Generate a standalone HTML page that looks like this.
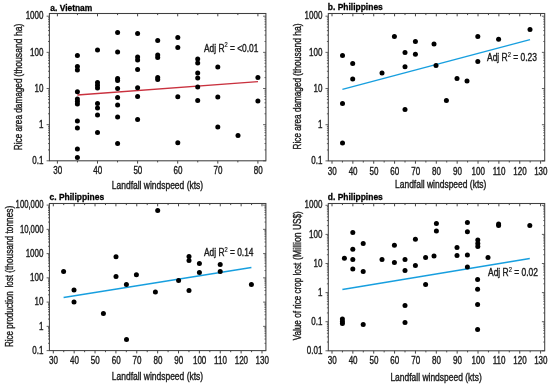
<!DOCTYPE html>
<html><head><meta charset="utf-8"><title>Landfall windspeed vs rice damage</title>
<style>
html,body{margin:0;padding:0;background:#fff}
svg{display:block;font-family:"Liberation Sans",sans-serif}
</style></head><body>
<svg width="550" height="388" viewBox="0 0 550 388">
<defs><filter id="soft" x="-2%" y="-2%" width="104%" height="104%"><feGaussianBlur stdDeviation="0.38"/></filter></defs>
<rect width="550" height="388" fill="#fff"/>
<g filter="url(#soft)">
<rect x="49.4" y="13.5" width="216.49999999999997" height="147.3" fill="none" stroke="#404040" stroke-width="1.05"/>
<path d="M57.40 160.8 v2.8 M57.40 13.5 v2.8" stroke="#444" stroke-width="1" fill="none"/>
<text transform="translate(57.65,174.00) scale(0.78,1)" text-anchor="middle" font-size="10.3" font-weight="normal" fill="#1c1c1c" stroke="#1c1c1c" stroke-width="0.38">30</text>
<path d="M77.45 160.8 v1.6 M77.45 13.5 v1.6" stroke="#444" stroke-width="1" fill="none"/>
<path d="M97.50 160.8 v2.8 M97.50 13.5 v2.8" stroke="#444" stroke-width="1" fill="none"/>
<text transform="translate(97.75,174.00) scale(0.78,1)" text-anchor="middle" font-size="10.3" font-weight="normal" fill="#1c1c1c" stroke="#1c1c1c" stroke-width="0.38">40</text>
<path d="M117.55 160.8 v1.6 M117.55 13.5 v1.6" stroke="#444" stroke-width="1" fill="none"/>
<path d="M137.60 160.8 v2.8 M137.60 13.5 v2.8" stroke="#444" stroke-width="1" fill="none"/>
<text transform="translate(137.85,174.00) scale(0.78,1)" text-anchor="middle" font-size="10.3" font-weight="normal" fill="#1c1c1c" stroke="#1c1c1c" stroke-width="0.38">50</text>
<path d="M157.65 160.8 v1.6 M157.65 13.5 v1.6" stroke="#444" stroke-width="1" fill="none"/>
<path d="M177.70 160.8 v2.8 M177.70 13.5 v2.8" stroke="#444" stroke-width="1" fill="none"/>
<text transform="translate(177.95,174.00) scale(0.78,1)" text-anchor="middle" font-size="10.3" font-weight="normal" fill="#1c1c1c" stroke="#1c1c1c" stroke-width="0.38">60</text>
<path d="M197.75 160.8 v1.6 M197.75 13.5 v1.6" stroke="#444" stroke-width="1" fill="none"/>
<path d="M217.80 160.8 v2.8 M217.80 13.5 v2.8" stroke="#444" stroke-width="1" fill="none"/>
<text transform="translate(218.05,174.00) scale(0.78,1)" text-anchor="middle" font-size="10.3" font-weight="normal" fill="#1c1c1c" stroke="#1c1c1c" stroke-width="0.38">70</text>
<path d="M237.85 160.8 v1.6 M237.85 13.5 v1.6" stroke="#444" stroke-width="1" fill="none"/>
<path d="M257.90 160.8 v2.8 M257.90 13.5 v2.8" stroke="#444" stroke-width="1" fill="none"/>
<text transform="translate(258.15,174.00) scale(0.78,1)" text-anchor="middle" font-size="10.3" font-weight="normal" fill="#1c1c1c" stroke="#1c1c1c" stroke-width="0.38">80</text>
<text transform="translate(43.50,163.95) scale(0.78,1)" text-anchor="end" font-size="10.3" font-weight="normal" fill="#1c1c1c" stroke="#1c1c1c" stroke-width="0.38">0.1</text>
<text transform="translate(43.50,127.80) scale(0.78,1)" text-anchor="end" font-size="10.3" font-weight="normal" fill="#1c1c1c" stroke="#1c1c1c" stroke-width="0.38">1</text>
<text transform="translate(43.50,91.65) scale(0.78,1)" text-anchor="end" font-size="10.3" font-weight="normal" fill="#1c1c1c" stroke="#1c1c1c" stroke-width="0.38">10</text>
<text transform="translate(43.50,55.50) scale(0.78,1)" text-anchor="end" font-size="10.3" font-weight="normal" fill="#1c1c1c" stroke="#1c1c1c" stroke-width="0.38">100</text>
<text transform="translate(43.50,19.35) scale(0.78,1)" text-anchor="end" font-size="10.3" font-weight="normal" fill="#1c1c1c" stroke="#1c1c1c" stroke-width="0.38">1000</text>
<path d="M49.4 160.80 h-2.8 M265.9 160.80 h-2.8 M49.4 149.92 h-1.4 M265.9 149.92 h-1.4 M49.4 143.55 h-1.4 M265.9 143.55 h-1.4 M49.4 139.04 h-1.4 M265.9 139.04 h-1.4 M49.4 135.53 h-1.4 M265.9 135.53 h-1.4 M49.4 132.67 h-1.4 M265.9 132.67 h-1.4 M49.4 130.25 h-1.4 M265.9 130.25 h-1.4 M49.4 128.15 h-1.4 M265.9 128.15 h-1.4 M49.4 126.30 h-1.4 M265.9 126.30 h-1.4 M49.4 124.65 h-2.8 M265.9 124.65 h-2.8 M49.4 113.77 h-1.4 M265.9 113.77 h-1.4 M49.4 107.40 h-1.4 M265.9 107.40 h-1.4 M49.4 102.89 h-1.4 M265.9 102.89 h-1.4 M49.4 99.38 h-1.4 M265.9 99.38 h-1.4 M49.4 96.52 h-1.4 M265.9 96.52 h-1.4 M49.4 94.10 h-1.4 M265.9 94.10 h-1.4 M49.4 92.00 h-1.4 M265.9 92.00 h-1.4 M49.4 90.15 h-1.4 M265.9 90.15 h-1.4 M49.4 88.50 h-2.8 M265.9 88.50 h-2.8 M49.4 77.62 h-1.4 M265.9 77.62 h-1.4 M49.4 71.25 h-1.4 M265.9 71.25 h-1.4 M49.4 66.74 h-1.4 M265.9 66.74 h-1.4 M49.4 63.23 h-1.4 M265.9 63.23 h-1.4 M49.4 60.37 h-1.4 M265.9 60.37 h-1.4 M49.4 57.95 h-1.4 M265.9 57.95 h-1.4 M49.4 55.85 h-1.4 M265.9 55.85 h-1.4 M49.4 54.00 h-1.4 M265.9 54.00 h-1.4 M49.4 52.35 h-2.8 M265.9 52.35 h-2.8 M49.4 41.47 h-1.4 M265.9 41.47 h-1.4 M49.4 35.10 h-1.4 M265.9 35.10 h-1.4 M49.4 30.59 h-1.4 M265.9 30.59 h-1.4 M49.4 27.08 h-1.4 M265.9 27.08 h-1.4 M49.4 24.22 h-1.4 M265.9 24.22 h-1.4 M49.4 21.80 h-1.4 M265.9 21.80 h-1.4 M49.4 19.70 h-1.4 M265.9 19.70 h-1.4 M49.4 17.85 h-1.4 M265.9 17.85 h-1.4 M49.4 16.20 h-2.8 M265.9 16.20 h-2.8" stroke="#444" stroke-width="0.85" fill="none"/>
<text transform="translate(50.30,10.60) scale(1,1)" text-anchor="start" font-size="9.1" font-weight="bold" fill="#000" stroke="#000" stroke-width="0.3" textLength="42.00" lengthAdjust="spacingAndGlyphs">a. Vietnam</text>
<text transform="translate(22.00,150.20) rotate(-90) scale(0.82,1)" text-anchor="start" font-size="10.3" font-weight="normal" fill="#1c1c1c" stroke="#1c1c1c" stroke-width="0.38" textLength="87.44" lengthAdjust="spacingAndGlyphs">Rice area damaged</text>
<text transform="translate(22.00,76.70) rotate(-90) scale(0.82,1)" text-anchor="start" font-size="10.3" font-weight="normal" fill="#1c1c1c" stroke="#1c1c1c" stroke-width="0.38" textLength="64.63" lengthAdjust="spacingAndGlyphs">(thousand ha)</text>
<text transform="translate(111.80,189.20) scale(0.82,1)" text-anchor="start" font-size="10.3" font-weight="normal" fill="#1c1c1c" stroke="#1c1c1c" stroke-width="0.38" textLength="111.34" lengthAdjust="spacingAndGlyphs">Landfall windspeed (kts)</text>
<line x1="77.4" y1="95.0" x2="258" y2="81.6" stroke="#c9303e" stroke-width="1.3" stroke-linecap="butt"/>
<circle cx="77.4" cy="55.6" r="2.5"/>
<circle cx="77.4" cy="66.6" r="2.5"/>
<circle cx="77.4" cy="70.0" r="2.5"/>
<circle cx="77.4" cy="91.8" r="2.5"/>
<circle cx="77.4" cy="99.0" r="2.5"/>
<circle cx="77.4" cy="101.4" r="2.5"/>
<circle cx="77.4" cy="104.0" r="2.5"/>
<circle cx="77.4" cy="121.0" r="2.5"/>
<circle cx="77.4" cy="128.0" r="2.5"/>
<circle cx="77.4" cy="149.0" r="2.5"/>
<circle cx="77.4" cy="157.4" r="2.5"/>
<circle cx="97.5" cy="50.0" r="2.5"/>
<circle cx="97.5" cy="82.4" r="2.5"/>
<circle cx="97.5" cy="85.2" r="2.5"/>
<circle cx="97.5" cy="88.0" r="2.5"/>
<circle cx="97.5" cy="103.6" r="2.5"/>
<circle cx="97.5" cy="108.0" r="2.5"/>
<circle cx="97.5" cy="115.0" r="2.5"/>
<circle cx="97.5" cy="132.4" r="2.5"/>
<circle cx="117.6" cy="32.4" r="2.5"/>
<circle cx="117.6" cy="52.0" r="2.5"/>
<circle cx="117.6" cy="78.4" r="2.5"/>
<circle cx="117.6" cy="80.6" r="2.5"/>
<circle cx="117.6" cy="88.4" r="2.5"/>
<circle cx="117.6" cy="97.5" r="2.5"/>
<circle cx="117.6" cy="105.0" r="2.5"/>
<circle cx="117.6" cy="117.0" r="2.5"/>
<circle cx="117.6" cy="143.6" r="2.5"/>
<circle cx="137.6" cy="33.6" r="2.5"/>
<circle cx="137.6" cy="57.0" r="2.5"/>
<circle cx="137.6" cy="60.0" r="2.5"/>
<circle cx="137.6" cy="69.4" r="2.5"/>
<circle cx="137.6" cy="87.8" r="2.5"/>
<circle cx="137.6" cy="96.4" r="2.5"/>
<circle cx="137.6" cy="119.4" r="2.5"/>
<circle cx="157.7" cy="40.6" r="2.5"/>
<circle cx="157.7" cy="55.0" r="2.5"/>
<circle cx="157.7" cy="57.4" r="2.5"/>
<circle cx="157.7" cy="77.6" r="2.5"/>
<circle cx="157.7" cy="79.4" r="2.5"/>
<circle cx="177.8" cy="37.6" r="2.5"/>
<circle cx="177.8" cy="47.6" r="2.5"/>
<circle cx="177.8" cy="96.8" r="2.5"/>
<circle cx="177.8" cy="142.8" r="2.5"/>
<circle cx="197.7" cy="59.0" r="2.5"/>
<circle cx="197.7" cy="63.0" r="2.5"/>
<circle cx="197.7" cy="73.0" r="2.5"/>
<circle cx="197.7" cy="78.0" r="2.5"/>
<circle cx="197.7" cy="87.0" r="2.5"/>
<circle cx="197.7" cy="100.4" r="2.5"/>
<circle cx="217.8" cy="67.0" r="2.5"/>
<circle cx="217.8" cy="97.0" r="2.5"/>
<circle cx="217.8" cy="127.0" r="2.5"/>
<circle cx="238.0" cy="135.6" r="2.5"/>
<circle cx="257.9" cy="77.6" r="2.5"/>
<circle cx="257.9" cy="101.0" r="2.5"/>
<text transform="translate(204,51.6) scale(0.82,1)" font-size="10.3" fill="#1c1c1c" stroke="#1c1c1c" stroke-width="0.38" textLength="66.34" lengthAdjust="spacingAndGlyphs">Adj R<tspan font-size="7" dy="-4.3" stroke-width="0.2">2</tspan><tspan dy="4.3"> = &lt;0.01</tspan></text>
<rect x="328.3" y="13.5" width="216.40000000000003" height="147.4" fill="none" stroke="#404040" stroke-width="1.05"/>
<path d="M332.00 160.9 v2.8 M332.00 13.5 v2.8" stroke="#444" stroke-width="1" fill="none"/>
<text transform="translate(332.25,174.50) scale(0.78,1)" text-anchor="middle" font-size="10.3" font-weight="normal" fill="#1c1c1c" stroke="#1c1c1c" stroke-width="0.38">30</text>
<path d="M342.43 160.9 v1.6 M342.43 13.5 v1.6" stroke="#444" stroke-width="1" fill="none"/>
<path d="M352.86 160.9 v2.8 M352.86 13.5 v2.8" stroke="#444" stroke-width="1" fill="none"/>
<text transform="translate(353.11,174.50) scale(0.78,1)" text-anchor="middle" font-size="10.3" font-weight="normal" fill="#1c1c1c" stroke="#1c1c1c" stroke-width="0.38">40</text>
<path d="M363.29 160.9 v1.6 M363.29 13.5 v1.6" stroke="#444" stroke-width="1" fill="none"/>
<path d="M373.72 160.9 v2.8 M373.72 13.5 v2.8" stroke="#444" stroke-width="1" fill="none"/>
<text transform="translate(373.97,174.50) scale(0.78,1)" text-anchor="middle" font-size="10.3" font-weight="normal" fill="#1c1c1c" stroke="#1c1c1c" stroke-width="0.38">50</text>
<path d="M384.15 160.9 v1.6 M384.15 13.5 v1.6" stroke="#444" stroke-width="1" fill="none"/>
<path d="M394.58 160.9 v2.8 M394.58 13.5 v2.8" stroke="#444" stroke-width="1" fill="none"/>
<text transform="translate(394.83,174.50) scale(0.78,1)" text-anchor="middle" font-size="10.3" font-weight="normal" fill="#1c1c1c" stroke="#1c1c1c" stroke-width="0.38">60</text>
<path d="M405.01 160.9 v1.6 M405.01 13.5 v1.6" stroke="#444" stroke-width="1" fill="none"/>
<path d="M415.44 160.9 v2.8 M415.44 13.5 v2.8" stroke="#444" stroke-width="1" fill="none"/>
<text transform="translate(415.69,174.50) scale(0.78,1)" text-anchor="middle" font-size="10.3" font-weight="normal" fill="#1c1c1c" stroke="#1c1c1c" stroke-width="0.38">70</text>
<path d="M425.87 160.9 v1.6 M425.87 13.5 v1.6" stroke="#444" stroke-width="1" fill="none"/>
<path d="M436.30 160.9 v2.8 M436.30 13.5 v2.8" stroke="#444" stroke-width="1" fill="none"/>
<text transform="translate(436.55,174.50) scale(0.78,1)" text-anchor="middle" font-size="10.3" font-weight="normal" fill="#1c1c1c" stroke="#1c1c1c" stroke-width="0.38">80</text>
<path d="M446.73 160.9 v1.6 M446.73 13.5 v1.6" stroke="#444" stroke-width="1" fill="none"/>
<path d="M457.16 160.9 v2.8 M457.16 13.5 v2.8" stroke="#444" stroke-width="1" fill="none"/>
<text transform="translate(457.41,174.50) scale(0.78,1)" text-anchor="middle" font-size="10.3" font-weight="normal" fill="#1c1c1c" stroke="#1c1c1c" stroke-width="0.38">90</text>
<path d="M467.59 160.9 v1.6 M467.59 13.5 v1.6" stroke="#444" stroke-width="1" fill="none"/>
<path d="M478.02 160.9 v2.8 M478.02 13.5 v2.8" stroke="#444" stroke-width="1" fill="none"/>
<text transform="translate(478.27,174.50) scale(0.78,1)" text-anchor="middle" font-size="10.3" font-weight="normal" fill="#1c1c1c" stroke="#1c1c1c" stroke-width="0.38">100</text>
<path d="M488.45 160.9 v1.6 M488.45 13.5 v1.6" stroke="#444" stroke-width="1" fill="none"/>
<path d="M498.88 160.9 v2.8 M498.88 13.5 v2.8" stroke="#444" stroke-width="1" fill="none"/>
<text transform="translate(499.13,174.50) scale(0.78,1)" text-anchor="middle" font-size="10.3" font-weight="normal" fill="#1c1c1c" stroke="#1c1c1c" stroke-width="0.38">110</text>
<path d="M509.31 160.9 v1.6 M509.31 13.5 v1.6" stroke="#444" stroke-width="1" fill="none"/>
<path d="M519.74 160.9 v2.8 M519.74 13.5 v2.8" stroke="#444" stroke-width="1" fill="none"/>
<text transform="translate(519.99,174.50) scale(0.78,1)" text-anchor="middle" font-size="10.3" font-weight="normal" fill="#1c1c1c" stroke="#1c1c1c" stroke-width="0.38">120</text>
<path d="M530.17 160.9 v1.6 M530.17 13.5 v1.6" stroke="#444" stroke-width="1" fill="none"/>
<path d="M540.60 160.9 v2.8 M540.60 13.5 v2.8" stroke="#444" stroke-width="1" fill="none"/>
<text transform="translate(540.85,174.50) scale(0.78,1)" text-anchor="middle" font-size="10.3" font-weight="normal" fill="#1c1c1c" stroke="#1c1c1c" stroke-width="0.38">130</text>
<text transform="translate(322.40,164.03) scale(0.78,1)" text-anchor="end" font-size="10.3" font-weight="normal" fill="#1c1c1c" stroke="#1c1c1c" stroke-width="0.38">0.1</text>
<text transform="translate(322.40,127.86) scale(0.78,1)" text-anchor="end" font-size="10.3" font-weight="normal" fill="#1c1c1c" stroke="#1c1c1c" stroke-width="0.38">1</text>
<text transform="translate(322.40,91.69) scale(0.78,1)" text-anchor="end" font-size="10.3" font-weight="normal" fill="#1c1c1c" stroke="#1c1c1c" stroke-width="0.38">10</text>
<text transform="translate(322.40,55.52) scale(0.78,1)" text-anchor="end" font-size="10.3" font-weight="normal" fill="#1c1c1c" stroke="#1c1c1c" stroke-width="0.38">100</text>
<text transform="translate(322.40,19.35) scale(0.78,1)" text-anchor="end" font-size="10.3" font-weight="normal" fill="#1c1c1c" stroke="#1c1c1c" stroke-width="0.38">1000</text>
<path d="M328.3 160.88 h-2.8 M544.7 160.88 h-2.8 M328.3 149.99 h-1.4 M544.7 149.99 h-1.4 M328.3 143.62 h-1.4 M544.7 143.62 h-1.4 M328.3 139.10 h-1.4 M544.7 139.10 h-1.4 M328.3 135.60 h-1.4 M544.7 135.60 h-1.4 M328.3 132.73 h-1.4 M544.7 132.73 h-1.4 M328.3 130.31 h-1.4 M544.7 130.31 h-1.4 M328.3 128.22 h-1.4 M544.7 128.22 h-1.4 M328.3 126.37 h-1.4 M544.7 126.37 h-1.4 M328.3 124.71 h-2.8 M544.7 124.71 h-2.8 M328.3 113.82 h-1.4 M544.7 113.82 h-1.4 M328.3 107.45 h-1.4 M544.7 107.45 h-1.4 M328.3 102.93 h-1.4 M544.7 102.93 h-1.4 M328.3 99.43 h-1.4 M544.7 99.43 h-1.4 M328.3 96.56 h-1.4 M544.7 96.56 h-1.4 M328.3 94.14 h-1.4 M544.7 94.14 h-1.4 M328.3 92.05 h-1.4 M544.7 92.05 h-1.4 M328.3 90.20 h-1.4 M544.7 90.20 h-1.4 M328.3 88.54 h-2.8 M544.7 88.54 h-2.8 M328.3 77.65 h-1.4 M544.7 77.65 h-1.4 M328.3 71.28 h-1.4 M544.7 71.28 h-1.4 M328.3 66.76 h-1.4 M544.7 66.76 h-1.4 M328.3 63.26 h-1.4 M544.7 63.26 h-1.4 M328.3 60.39 h-1.4 M544.7 60.39 h-1.4 M328.3 57.97 h-1.4 M544.7 57.97 h-1.4 M328.3 55.88 h-1.4 M544.7 55.88 h-1.4 M328.3 54.03 h-1.4 M544.7 54.03 h-1.4 M328.3 52.37 h-2.8 M544.7 52.37 h-2.8 M328.3 41.48 h-1.4 M544.7 41.48 h-1.4 M328.3 35.11 h-1.4 M544.7 35.11 h-1.4 M328.3 30.59 h-1.4 M544.7 30.59 h-1.4 M328.3 27.09 h-1.4 M544.7 27.09 h-1.4 M328.3 24.22 h-1.4 M544.7 24.22 h-1.4 M328.3 21.80 h-1.4 M544.7 21.80 h-1.4 M328.3 19.71 h-1.4 M544.7 19.71 h-1.4 M328.3 17.86 h-1.4 M544.7 17.86 h-1.4 M328.3 16.20 h-2.8 M544.7 16.20 h-2.8" stroke="#444" stroke-width="0.85" fill="none"/>
<text transform="translate(327.80,10.30) scale(1,1)" text-anchor="start" font-size="9.1" font-weight="bold" fill="#000" stroke="#000" stroke-width="0.3" textLength="55.00" lengthAdjust="spacingAndGlyphs">b. Philippines</text>
<text transform="translate(301.00,149.40) rotate(-90) scale(0.82,1)" text-anchor="start" font-size="10.3" font-weight="normal" fill="#1c1c1c" stroke="#1c1c1c" stroke-width="0.38" textLength="87.07" lengthAdjust="spacingAndGlyphs">Rice area damaged</text>
<text transform="translate(301.00,76.00) rotate(-90) scale(0.82,1)" text-anchor="start" font-size="10.3" font-weight="normal" fill="#1c1c1c" stroke="#1c1c1c" stroke-width="0.38" textLength="64.15" lengthAdjust="spacingAndGlyphs">(thousand ha)</text>
<text transform="translate(395.00,188.20) scale(0.82,1)" text-anchor="start" font-size="10.3" font-weight="normal" fill="#1c1c1c" stroke="#1c1c1c" stroke-width="0.38" textLength="111.34" lengthAdjust="spacingAndGlyphs">Landfall windspeed (kts)</text>
<line x1="342.4" y1="89.4" x2="530" y2="39.6" stroke="#189fdf" stroke-width="1.5" stroke-linecap="butt"/>
<circle cx="342.5" cy="55.6" r="2.5"/>
<circle cx="352.7" cy="63.5" r="2.5"/>
<circle cx="352.7" cy="79.0" r="2.5"/>
<circle cx="382.0" cy="73.0" r="2.5"/>
<circle cx="394.4" cy="36.4" r="2.5"/>
<circle cx="405.0" cy="52.4" r="2.5"/>
<circle cx="405.0" cy="66.8" r="2.5"/>
<circle cx="415.4" cy="41.4" r="2.5"/>
<circle cx="415.4" cy="54.2" r="2.5"/>
<circle cx="434.0" cy="44.0" r="2.5"/>
<circle cx="436.0" cy="65.4" r="2.5"/>
<circle cx="457.0" cy="78.6" r="2.5"/>
<circle cx="467.0" cy="81.0" r="2.5"/>
<circle cx="477.8" cy="36.4" r="2.5"/>
<circle cx="477.8" cy="61.4" r="2.5"/>
<circle cx="498.6" cy="39.2" r="2.5"/>
<circle cx="530.0" cy="29.4" r="2.5"/>
<circle cx="446.4" cy="100.6" r="2.5"/>
<circle cx="342.5" cy="103.6" r="2.5"/>
<circle cx="342.5" cy="143.0" r="2.5"/>
<circle cx="405.0" cy="109.6" r="2.5"/>
<text transform="translate(487,61.4) scale(0.82,1)" font-size="10.3" fill="#1c1c1c" stroke="#1c1c1c" stroke-width="0.38" textLength="60.98" lengthAdjust="spacingAndGlyphs">Adj R<tspan font-size="7" dy="-4.3" stroke-width="0.2">2</tspan><tspan dy="4.3"> = 0.23</tspan></text>
<rect x="49.4" y="203.5" width="216.49999999999997" height="147.10000000000002" fill="none" stroke="#404040" stroke-width="1.05"/>
<path d="M53.30 350.6 v2.8 M53.30 203.5 v2.8" stroke="#444" stroke-width="1" fill="none"/>
<text transform="translate(53.55,364.20) scale(0.78,1)" text-anchor="middle" font-size="10.3" font-weight="normal" fill="#1c1c1c" stroke="#1c1c1c" stroke-width="0.38">30</text>
<path d="M63.73 350.6 v1.6 M63.73 203.5 v1.6" stroke="#444" stroke-width="1" fill="none"/>
<path d="M74.17 350.6 v2.8 M74.17 203.5 v2.8" stroke="#444" stroke-width="1" fill="none"/>
<text transform="translate(74.42,364.20) scale(0.78,1)" text-anchor="middle" font-size="10.3" font-weight="normal" fill="#1c1c1c" stroke="#1c1c1c" stroke-width="0.38">40</text>
<path d="M84.61 350.6 v1.6 M84.61 203.5 v1.6" stroke="#444" stroke-width="1" fill="none"/>
<path d="M95.04 350.6 v2.8 M95.04 203.5 v2.8" stroke="#444" stroke-width="1" fill="none"/>
<text transform="translate(95.29,364.20) scale(0.78,1)" text-anchor="middle" font-size="10.3" font-weight="normal" fill="#1c1c1c" stroke="#1c1c1c" stroke-width="0.38">50</text>
<path d="M105.47 350.6 v1.6 M105.47 203.5 v1.6" stroke="#444" stroke-width="1" fill="none"/>
<path d="M115.91 350.6 v2.8 M115.91 203.5 v2.8" stroke="#444" stroke-width="1" fill="none"/>
<text transform="translate(116.16,364.20) scale(0.78,1)" text-anchor="middle" font-size="10.3" font-weight="normal" fill="#1c1c1c" stroke="#1c1c1c" stroke-width="0.38">60</text>
<path d="M126.34 350.6 v1.6 M126.34 203.5 v1.6" stroke="#444" stroke-width="1" fill="none"/>
<path d="M136.78 350.6 v2.8 M136.78 203.5 v2.8" stroke="#444" stroke-width="1" fill="none"/>
<text transform="translate(137.03,364.20) scale(0.78,1)" text-anchor="middle" font-size="10.3" font-weight="normal" fill="#1c1c1c" stroke="#1c1c1c" stroke-width="0.38">70</text>
<path d="M147.22 350.6 v1.6 M147.22 203.5 v1.6" stroke="#444" stroke-width="1" fill="none"/>
<path d="M157.65 350.6 v2.8 M157.65 203.5 v2.8" stroke="#444" stroke-width="1" fill="none"/>
<text transform="translate(157.90,364.20) scale(0.78,1)" text-anchor="middle" font-size="10.3" font-weight="normal" fill="#1c1c1c" stroke="#1c1c1c" stroke-width="0.38">80</text>
<path d="M168.09 350.6 v1.6 M168.09 203.5 v1.6" stroke="#444" stroke-width="1" fill="none"/>
<path d="M178.52 350.6 v2.8 M178.52 203.5 v2.8" stroke="#444" stroke-width="1" fill="none"/>
<text transform="translate(178.77,364.20) scale(0.78,1)" text-anchor="middle" font-size="10.3" font-weight="normal" fill="#1c1c1c" stroke="#1c1c1c" stroke-width="0.38">90</text>
<path d="M188.95 350.6 v1.6 M188.95 203.5 v1.6" stroke="#444" stroke-width="1" fill="none"/>
<path d="M199.39 350.6 v2.8 M199.39 203.5 v2.8" stroke="#444" stroke-width="1" fill="none"/>
<text transform="translate(199.64,364.20) scale(0.78,1)" text-anchor="middle" font-size="10.3" font-weight="normal" fill="#1c1c1c" stroke="#1c1c1c" stroke-width="0.38">100</text>
<path d="M209.82 350.6 v1.6 M209.82 203.5 v1.6" stroke="#444" stroke-width="1" fill="none"/>
<path d="M220.26 350.6 v2.8 M220.26 203.5 v2.8" stroke="#444" stroke-width="1" fill="none"/>
<text transform="translate(220.51,364.20) scale(0.78,1)" text-anchor="middle" font-size="10.3" font-weight="normal" fill="#1c1c1c" stroke="#1c1c1c" stroke-width="0.38">110</text>
<path d="M230.69 350.6 v1.6 M230.69 203.5 v1.6" stroke="#444" stroke-width="1" fill="none"/>
<path d="M241.13 350.6 v2.8 M241.13 203.5 v2.8" stroke="#444" stroke-width="1" fill="none"/>
<text transform="translate(241.38,364.20) scale(0.78,1)" text-anchor="middle" font-size="10.3" font-weight="normal" fill="#1c1c1c" stroke="#1c1c1c" stroke-width="0.38">120</text>
<path d="M251.56 350.6 v1.6 M251.56 203.5 v1.6" stroke="#444" stroke-width="1" fill="none"/>
<path d="M262.00 350.6 v2.8 M262.00 203.5 v2.8" stroke="#444" stroke-width="1" fill="none"/>
<text transform="translate(262.25,364.20) scale(0.78,1)" text-anchor="middle" font-size="10.3" font-weight="normal" fill="#1c1c1c" stroke="#1c1c1c" stroke-width="0.38">130</text>
<text transform="translate(43.50,353.75) scale(0.78,1)" text-anchor="end" font-size="10.3" font-weight="normal" fill="#1c1c1c" stroke="#1c1c1c" stroke-width="0.38">0.1</text>
<text transform="translate(43.50,329.50) scale(0.78,1)" text-anchor="end" font-size="10.3" font-weight="normal" fill="#1c1c1c" stroke="#1c1c1c" stroke-width="0.38">1</text>
<text transform="translate(43.50,305.25) scale(0.78,1)" text-anchor="end" font-size="10.3" font-weight="normal" fill="#1c1c1c" stroke="#1c1c1c" stroke-width="0.38">10</text>
<text transform="translate(43.50,281.00) scale(0.78,1)" text-anchor="end" font-size="10.3" font-weight="normal" fill="#1c1c1c" stroke="#1c1c1c" stroke-width="0.38">100</text>
<text transform="translate(43.50,256.75) scale(0.78,1)" text-anchor="end" font-size="10.3" font-weight="normal" fill="#1c1c1c" stroke="#1c1c1c" stroke-width="0.38">1000</text>
<text transform="translate(43.50,232.50) scale(0.75,1)" text-anchor="end" font-size="10.3" font-weight="normal" fill="#1c1c1c" stroke="#1c1c1c" stroke-width="0.38">10,000</text>
<text transform="translate(43.50,208.25) scale(0.75,1)" text-anchor="end" font-size="10.3" font-weight="normal" fill="#1c1c1c" stroke="#1c1c1c" stroke-width="0.38">100,000</text>
<path d="M49.4 350.60 h-2.8 M265.9 350.60 h-2.8 M49.4 343.30 h-1.4 M265.9 343.30 h-1.4 M49.4 339.03 h-1.4 M265.9 339.03 h-1.4 M49.4 336.00 h-1.4 M265.9 336.00 h-1.4 M49.4 333.65 h-1.4 M265.9 333.65 h-1.4 M49.4 331.73 h-1.4 M265.9 331.73 h-1.4 M49.4 330.11 h-1.4 M265.9 330.11 h-1.4 M49.4 328.70 h-1.4 M265.9 328.70 h-1.4 M49.4 327.46 h-1.4 M265.9 327.46 h-1.4 M49.4 326.35 h-2.8 M265.9 326.35 h-2.8 M49.4 319.05 h-1.4 M265.9 319.05 h-1.4 M49.4 314.78 h-1.4 M265.9 314.78 h-1.4 M49.4 311.75 h-1.4 M265.9 311.75 h-1.4 M49.4 309.40 h-1.4 M265.9 309.40 h-1.4 M49.4 307.48 h-1.4 M265.9 307.48 h-1.4 M49.4 305.86 h-1.4 M265.9 305.86 h-1.4 M49.4 304.45 h-1.4 M265.9 304.45 h-1.4 M49.4 303.21 h-1.4 M265.9 303.21 h-1.4 M49.4 302.10 h-2.8 M265.9 302.10 h-2.8 M49.4 294.80 h-1.4 M265.9 294.80 h-1.4 M49.4 290.53 h-1.4 M265.9 290.53 h-1.4 M49.4 287.50 h-1.4 M265.9 287.50 h-1.4 M49.4 285.15 h-1.4 M265.9 285.15 h-1.4 M49.4 283.23 h-1.4 M265.9 283.23 h-1.4 M49.4 281.61 h-1.4 M265.9 281.61 h-1.4 M49.4 280.20 h-1.4 M265.9 280.20 h-1.4 M49.4 278.96 h-1.4 M265.9 278.96 h-1.4 M49.4 277.85 h-2.8 M265.9 277.85 h-2.8 M49.4 270.55 h-1.4 M265.9 270.55 h-1.4 M49.4 266.28 h-1.4 M265.9 266.28 h-1.4 M49.4 263.25 h-1.4 M265.9 263.25 h-1.4 M49.4 260.90 h-1.4 M265.9 260.90 h-1.4 M49.4 258.98 h-1.4 M265.9 258.98 h-1.4 M49.4 257.36 h-1.4 M265.9 257.36 h-1.4 M49.4 255.95 h-1.4 M265.9 255.95 h-1.4 M49.4 254.71 h-1.4 M265.9 254.71 h-1.4 M49.4 253.60 h-2.8 M265.9 253.60 h-2.8 M49.4 246.30 h-1.4 M265.9 246.30 h-1.4 M49.4 242.03 h-1.4 M265.9 242.03 h-1.4 M49.4 239.00 h-1.4 M265.9 239.00 h-1.4 M49.4 236.65 h-1.4 M265.9 236.65 h-1.4 M49.4 234.73 h-1.4 M265.9 234.73 h-1.4 M49.4 233.11 h-1.4 M265.9 233.11 h-1.4 M49.4 231.70 h-1.4 M265.9 231.70 h-1.4 M49.4 230.46 h-1.4 M265.9 230.46 h-1.4 M49.4 229.35 h-2.8 M265.9 229.35 h-2.8 M49.4 222.05 h-1.4 M265.9 222.05 h-1.4 M49.4 217.78 h-1.4 M265.9 217.78 h-1.4 M49.4 214.75 h-1.4 M265.9 214.75 h-1.4 M49.4 212.40 h-1.4 M265.9 212.40 h-1.4 M49.4 210.48 h-1.4 M265.9 210.48 h-1.4 M49.4 208.86 h-1.4 M265.9 208.86 h-1.4 M49.4 207.45 h-1.4 M265.9 207.45 h-1.4 M49.4 206.21 h-1.4 M265.9 206.21 h-1.4 M49.4 205.10 h-2.8 M265.9 205.10 h-2.8" stroke="#444" stroke-width="0.85" fill="none"/>
<text transform="translate(49.50,200.30) scale(1,1)" text-anchor="start" font-size="9.1" font-weight="bold" fill="#000" stroke="#000" stroke-width="0.3" textLength="54.60" lengthAdjust="spacingAndGlyphs">c. Philippines</text>
<text transform="translate(13.00,347.10) rotate(-90) scale(0.82,1)" text-anchor="start" font-size="10.3" font-weight="normal" fill="#1c1c1c" stroke="#1c1c1c" stroke-width="0.38" textLength="68.17" lengthAdjust="spacingAndGlyphs">Rice production</text>
<text transform="translate(13.00,287.60) rotate(-90) scale(0.82,1)" text-anchor="start" font-size="10.3" font-weight="normal" fill="#1c1c1c" stroke="#1c1c1c" stroke-width="0.38" textLength="15.24" lengthAdjust="spacingAndGlyphs">lost</text>
<text transform="translate(13.00,272.70) rotate(-90) scale(0.82,1)" text-anchor="start" font-size="10.3" font-weight="normal" fill="#1c1c1c" stroke="#1c1c1c" stroke-width="0.38" textLength="81.59" lengthAdjust="spacingAndGlyphs">(thousand tonnes)</text>
<text transform="translate(111.80,380.40) scale(0.82,1)" text-anchor="start" font-size="10.3" font-weight="normal" fill="#1c1c1c" stroke="#1c1c1c" stroke-width="0.38" textLength="111.34" lengthAdjust="spacingAndGlyphs">Landfall windspeed (kts)</text>
<line x1="63.6" y1="297.4" x2="251.4" y2="267.6" stroke="#189fdf" stroke-width="1.5" stroke-linecap="butt"/>
<circle cx="63.6" cy="271.5" r="2.5"/>
<circle cx="74.0" cy="290.0" r="2.5"/>
<circle cx="74.0" cy="302.0" r="2.5"/>
<circle cx="103.4" cy="313.4" r="2.5"/>
<circle cx="116.0" cy="256.8" r="2.5"/>
<circle cx="116.0" cy="276.5" r="2.5"/>
<circle cx="126.4" cy="284.4" r="2.5"/>
<circle cx="126.5" cy="339.4" r="2.5"/>
<circle cx="136.4" cy="274.8" r="2.5"/>
<circle cx="155.4" cy="292.0" r="2.5"/>
<circle cx="157.7" cy="210.5" r="2.5"/>
<circle cx="178.6" cy="280.4" r="2.5"/>
<circle cx="189.0" cy="256.4" r="2.5"/>
<circle cx="189.0" cy="260.6" r="2.5"/>
<circle cx="189.0" cy="290.4" r="2.5"/>
<circle cx="199.4" cy="263.4" r="2.5"/>
<circle cx="199.4" cy="272.4" r="2.5"/>
<circle cx="220.2" cy="264.6" r="2.5"/>
<circle cx="220.2" cy="271.4" r="2.5"/>
<circle cx="251.4" cy="284.4" r="2.5"/>
<text transform="translate(204,256) scale(0.82,1)" font-size="10.3" fill="#1c1c1c" stroke="#1c1c1c" stroke-width="0.38" textLength="60.37" lengthAdjust="spacingAndGlyphs">Adj R<tspan font-size="7" dy="-4.3" stroke-width="0.2">2</tspan><tspan dy="4.3"> = 0.14</tspan></text>
<rect x="328.3" y="203.5" width="216.40000000000003" height="147.3" fill="none" stroke="#404040" stroke-width="1.05"/>
<path d="M332.00 350.8 v2.8 M332.00 203.5 v2.8" stroke="#444" stroke-width="1" fill="none"/>
<text transform="translate(332.25,364.40) scale(0.78,1)" text-anchor="middle" font-size="10.3" font-weight="normal" fill="#1c1c1c" stroke="#1c1c1c" stroke-width="0.38">30</text>
<path d="M342.43 350.8 v1.6 M342.43 203.5 v1.6" stroke="#444" stroke-width="1" fill="none"/>
<path d="M352.86 350.8 v2.8 M352.86 203.5 v2.8" stroke="#444" stroke-width="1" fill="none"/>
<text transform="translate(353.11,364.40) scale(0.78,1)" text-anchor="middle" font-size="10.3" font-weight="normal" fill="#1c1c1c" stroke="#1c1c1c" stroke-width="0.38">40</text>
<path d="M363.29 350.8 v1.6 M363.29 203.5 v1.6" stroke="#444" stroke-width="1" fill="none"/>
<path d="M373.72 350.8 v2.8 M373.72 203.5 v2.8" stroke="#444" stroke-width="1" fill="none"/>
<text transform="translate(373.97,364.40) scale(0.78,1)" text-anchor="middle" font-size="10.3" font-weight="normal" fill="#1c1c1c" stroke="#1c1c1c" stroke-width="0.38">50</text>
<path d="M384.15 350.8 v1.6 M384.15 203.5 v1.6" stroke="#444" stroke-width="1" fill="none"/>
<path d="M394.58 350.8 v2.8 M394.58 203.5 v2.8" stroke="#444" stroke-width="1" fill="none"/>
<text transform="translate(394.83,364.40) scale(0.78,1)" text-anchor="middle" font-size="10.3" font-weight="normal" fill="#1c1c1c" stroke="#1c1c1c" stroke-width="0.38">60</text>
<path d="M405.01 350.8 v1.6 M405.01 203.5 v1.6" stroke="#444" stroke-width="1" fill="none"/>
<path d="M415.44 350.8 v2.8 M415.44 203.5 v2.8" stroke="#444" stroke-width="1" fill="none"/>
<text transform="translate(415.69,364.40) scale(0.78,1)" text-anchor="middle" font-size="10.3" font-weight="normal" fill="#1c1c1c" stroke="#1c1c1c" stroke-width="0.38">70</text>
<path d="M425.87 350.8 v1.6 M425.87 203.5 v1.6" stroke="#444" stroke-width="1" fill="none"/>
<path d="M436.30 350.8 v2.8 M436.30 203.5 v2.8" stroke="#444" stroke-width="1" fill="none"/>
<text transform="translate(436.55,364.40) scale(0.78,1)" text-anchor="middle" font-size="10.3" font-weight="normal" fill="#1c1c1c" stroke="#1c1c1c" stroke-width="0.38">80</text>
<path d="M446.73 350.8 v1.6 M446.73 203.5 v1.6" stroke="#444" stroke-width="1" fill="none"/>
<path d="M457.16 350.8 v2.8 M457.16 203.5 v2.8" stroke="#444" stroke-width="1" fill="none"/>
<text transform="translate(457.41,364.40) scale(0.78,1)" text-anchor="middle" font-size="10.3" font-weight="normal" fill="#1c1c1c" stroke="#1c1c1c" stroke-width="0.38">90</text>
<path d="M467.59 350.8 v1.6 M467.59 203.5 v1.6" stroke="#444" stroke-width="1" fill="none"/>
<path d="M478.02 350.8 v2.8 M478.02 203.5 v2.8" stroke="#444" stroke-width="1" fill="none"/>
<text transform="translate(478.27,364.40) scale(0.78,1)" text-anchor="middle" font-size="10.3" font-weight="normal" fill="#1c1c1c" stroke="#1c1c1c" stroke-width="0.38">100</text>
<path d="M488.45 350.8 v1.6 M488.45 203.5 v1.6" stroke="#444" stroke-width="1" fill="none"/>
<path d="M498.88 350.8 v2.8 M498.88 203.5 v2.8" stroke="#444" stroke-width="1" fill="none"/>
<text transform="translate(499.13,364.40) scale(0.78,1)" text-anchor="middle" font-size="10.3" font-weight="normal" fill="#1c1c1c" stroke="#1c1c1c" stroke-width="0.38">110</text>
<path d="M509.31 350.8 v1.6 M509.31 203.5 v1.6" stroke="#444" stroke-width="1" fill="none"/>
<path d="M519.74 350.8 v2.8 M519.74 203.5 v2.8" stroke="#444" stroke-width="1" fill="none"/>
<text transform="translate(519.99,364.40) scale(0.78,1)" text-anchor="middle" font-size="10.3" font-weight="normal" fill="#1c1c1c" stroke="#1c1c1c" stroke-width="0.38">120</text>
<path d="M530.17 350.8 v1.6 M530.17 203.5 v1.6" stroke="#444" stroke-width="1" fill="none"/>
<path d="M540.60 350.8 v2.8 M540.60 203.5 v2.8" stroke="#444" stroke-width="1" fill="none"/>
<text transform="translate(540.85,364.40) scale(0.78,1)" text-anchor="middle" font-size="10.3" font-weight="normal" fill="#1c1c1c" stroke="#1c1c1c" stroke-width="0.38">130</text>
<text transform="translate(322.40,353.95) scale(0.78,1)" text-anchor="end" font-size="10.3" font-weight="normal" fill="#1c1c1c" stroke="#1c1c1c" stroke-width="0.38">0.01</text>
<text transform="translate(322.40,324.85) scale(0.78,1)" text-anchor="end" font-size="10.3" font-weight="normal" fill="#1c1c1c" stroke="#1c1c1c" stroke-width="0.38">0.1</text>
<text transform="translate(322.40,295.75) scale(0.78,1)" text-anchor="end" font-size="10.3" font-weight="normal" fill="#1c1c1c" stroke="#1c1c1c" stroke-width="0.38">1</text>
<text transform="translate(322.40,266.65) scale(0.78,1)" text-anchor="end" font-size="10.3" font-weight="normal" fill="#1c1c1c" stroke="#1c1c1c" stroke-width="0.38">10</text>
<text transform="translate(322.40,237.55) scale(0.78,1)" text-anchor="end" font-size="10.3" font-weight="normal" fill="#1c1c1c" stroke="#1c1c1c" stroke-width="0.38">100</text>
<text transform="translate(322.40,208.45) scale(0.78,1)" text-anchor="end" font-size="10.3" font-weight="normal" fill="#1c1c1c" stroke="#1c1c1c" stroke-width="0.38">1000</text>
<path d="M328.3 350.80 h-2.8 M544.7 350.80 h-2.8 M328.3 342.04 h-1.4 M544.7 342.04 h-1.4 M328.3 336.92 h-1.4 M544.7 336.92 h-1.4 M328.3 333.28 h-1.4 M544.7 333.28 h-1.4 M328.3 330.46 h-1.4 M544.7 330.46 h-1.4 M328.3 328.16 h-1.4 M544.7 328.16 h-1.4 M328.3 326.21 h-1.4 M544.7 326.21 h-1.4 M328.3 324.52 h-1.4 M544.7 324.52 h-1.4 M328.3 323.03 h-1.4 M544.7 323.03 h-1.4 M328.3 321.70 h-2.8 M544.7 321.70 h-2.8 M328.3 312.94 h-1.4 M544.7 312.94 h-1.4 M328.3 307.82 h-1.4 M544.7 307.82 h-1.4 M328.3 304.18 h-1.4 M544.7 304.18 h-1.4 M328.3 301.36 h-1.4 M544.7 301.36 h-1.4 M328.3 299.06 h-1.4 M544.7 299.06 h-1.4 M328.3 297.11 h-1.4 M544.7 297.11 h-1.4 M328.3 295.42 h-1.4 M544.7 295.42 h-1.4 M328.3 293.93 h-1.4 M544.7 293.93 h-1.4 M328.3 292.60 h-2.8 M544.7 292.60 h-2.8 M328.3 283.84 h-1.4 M544.7 283.84 h-1.4 M328.3 278.72 h-1.4 M544.7 278.72 h-1.4 M328.3 275.08 h-1.4 M544.7 275.08 h-1.4 M328.3 272.26 h-1.4 M544.7 272.26 h-1.4 M328.3 269.96 h-1.4 M544.7 269.96 h-1.4 M328.3 268.01 h-1.4 M544.7 268.01 h-1.4 M328.3 266.32 h-1.4 M544.7 266.32 h-1.4 M328.3 264.83 h-1.4 M544.7 264.83 h-1.4 M328.3 263.50 h-2.8 M544.7 263.50 h-2.8 M328.3 254.74 h-1.4 M544.7 254.74 h-1.4 M328.3 249.62 h-1.4 M544.7 249.62 h-1.4 M328.3 245.98 h-1.4 M544.7 245.98 h-1.4 M328.3 243.16 h-1.4 M544.7 243.16 h-1.4 M328.3 240.86 h-1.4 M544.7 240.86 h-1.4 M328.3 238.91 h-1.4 M544.7 238.91 h-1.4 M328.3 237.22 h-1.4 M544.7 237.22 h-1.4 M328.3 235.73 h-1.4 M544.7 235.73 h-1.4 M328.3 234.40 h-2.8 M544.7 234.40 h-2.8 M328.3 225.64 h-1.4 M544.7 225.64 h-1.4 M328.3 220.52 h-1.4 M544.7 220.52 h-1.4 M328.3 216.88 h-1.4 M544.7 216.88 h-1.4 M328.3 214.06 h-1.4 M544.7 214.06 h-1.4 M328.3 211.76 h-1.4 M544.7 211.76 h-1.4 M328.3 209.81 h-1.4 M544.7 209.81 h-1.4 M328.3 208.12 h-1.4 M544.7 208.12 h-1.4 M328.3 206.63 h-1.4 M544.7 206.63 h-1.4 M328.3 205.30 h-2.8 M544.7 205.30 h-2.8" stroke="#444" stroke-width="0.85" fill="none"/>
<text transform="translate(327.80,200.10) scale(1,1)" text-anchor="start" font-size="9.1" font-weight="bold" fill="#000" stroke="#000" stroke-width="0.3" textLength="55.00" lengthAdjust="spacingAndGlyphs">d. Philippines</text>
<text transform="translate(301.00,340.30) rotate(-90) scale(0.82,1)" text-anchor="start" font-size="10.3" font-weight="normal" fill="#1c1c1c" stroke="#1c1c1c" stroke-width="0.38" textLength="94.51" lengthAdjust="spacingAndGlyphs">Value of rice crop lost</text>
<text transform="translate(301.00,260.00) rotate(-90) scale(0.82,1)" text-anchor="start" font-size="10.3" font-weight="normal" fill="#1c1c1c" stroke="#1c1c1c" stroke-width="0.38" textLength="33.78" lengthAdjust="spacingAndGlyphs">(Million</text>
<text transform="translate(301.00,229.90) rotate(-90) scale(0.82,1)" text-anchor="start" font-size="10.3" font-weight="normal" fill="#1c1c1c" stroke="#1c1c1c" stroke-width="0.38" textLength="22.68" lengthAdjust="spacingAndGlyphs">US$)</text>
<text transform="translate(390.40,381.30) scale(0.82,1)" text-anchor="start" font-size="10.3" font-weight="normal" fill="#1c1c1c" stroke="#1c1c1c" stroke-width="0.38" textLength="111.34" lengthAdjust="spacingAndGlyphs">Landfall windspeed (kts)</text>
<line x1="342.4" y1="289.4" x2="529.8" y2="258.4" stroke="#189fdf" stroke-width="1.5" stroke-linecap="butt"/>
<circle cx="344.4" cy="258.2" r="2.5"/>
<circle cx="352.8" cy="232.4" r="2.5"/>
<circle cx="352.8" cy="249.2" r="2.5"/>
<circle cx="352.8" cy="259.6" r="2.5"/>
<circle cx="352.8" cy="269.0" r="2.5"/>
<circle cx="363.2" cy="243.6" r="2.5"/>
<circle cx="363.2" cy="271.4" r="2.5"/>
<circle cx="382.0" cy="259.4" r="2.5"/>
<circle cx="394.4" cy="245.2" r="2.5"/>
<circle cx="394.4" cy="262.4" r="2.5"/>
<circle cx="405.0" cy="259.4" r="2.5"/>
<circle cx="405.0" cy="270.4" r="2.5"/>
<circle cx="415.4" cy="239.2" r="2.5"/>
<circle cx="415.4" cy="265.4" r="2.5"/>
<circle cx="425.6" cy="257.4" r="2.5"/>
<circle cx="434.0" cy="256.0" r="2.5"/>
<circle cx="436.4" cy="223.4" r="2.5"/>
<circle cx="436.4" cy="231.0" r="2.5"/>
<circle cx="342.4" cy="319.0" r="2.5"/>
<circle cx="342.4" cy="321.6" r="2.5"/>
<circle cx="342.4" cy="323.6" r="2.5"/>
<circle cx="363.2" cy="324.6" r="2.5"/>
<circle cx="405.0" cy="305.6" r="2.5"/>
<circle cx="405.0" cy="322.6" r="2.5"/>
<circle cx="425.6" cy="284.4" r="2.5"/>
<circle cx="457.0" cy="247.4" r="2.5"/>
<circle cx="457.0" cy="255.6" r="2.5"/>
<circle cx="467.4" cy="222.6" r="2.5"/>
<circle cx="467.4" cy="231.8" r="2.5"/>
<circle cx="467.4" cy="255.0" r="2.5"/>
<circle cx="467.4" cy="267.0" r="2.5"/>
<circle cx="477.8" cy="240.0" r="2.5"/>
<circle cx="477.8" cy="243.6" r="2.5"/>
<circle cx="477.8" cy="246.4" r="2.5"/>
<circle cx="488.0" cy="257.6" r="2.5"/>
<circle cx="498.6" cy="224.0" r="2.5"/>
<circle cx="498.6" cy="225.4" r="2.5"/>
<circle cx="529.8" cy="225.6" r="2.5"/>
<circle cx="477.6" cy="279.6" r="2.5"/>
<circle cx="477.6" cy="289.2" r="2.5"/>
<circle cx="477.6" cy="304.4" r="2.5"/>
<circle cx="477.6" cy="329.4" r="2.5"/>
<text transform="translate(488,276) scale(0.82,1)" font-size="10.3" fill="#1c1c1c" stroke="#1c1c1c" stroke-width="0.38" textLength="60.98" lengthAdjust="spacingAndGlyphs">Adj R<tspan font-size="7" dy="-4.3" stroke-width="0.2">2</tspan><tspan dy="4.3"> = 0.02</tspan></text>
</g>
</svg>
</body></html>
